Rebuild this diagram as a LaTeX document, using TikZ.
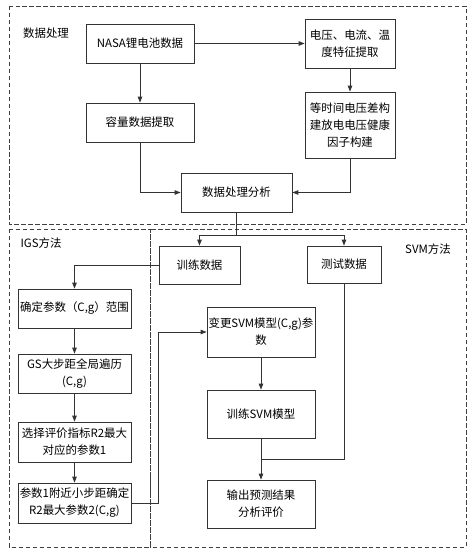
\documentclass[tikz,border=0pt]{standalone}
\usepackage{fontspec}
\setmainfont{Noto Sans CJK SC}
\usetikzlibrary{arrows.meta}
\newlength{\du}
\setlength{\du}{1bp}
\tikzset{
  box/.style={draw=black!80, line width=0.8pt, fill=white, align=center, inner sep=0pt,
    font=\fontsize{11.5}{17}\selectfont},
  zone/.style={draw=black!75, line width=0.9pt, dash pattern=on 4.5pt off 2.5pt},
  link/.style={draw=black!80, line width=0.8pt},
  arr/.style={link, -{Triangle[length=6pt,width=4.5pt]}},
  tag/.style={font=\fontsize{11.5}{14}\selectfont, inner sep=0pt}
}

\begin{document}
\begin{tikzpicture}
\pgftransformxscale{1.000000}
\pgftransformyscale{-1.000000}
\useasboundingbox (0\du,0\du) rectangle (474\du,558\du);
% dashed zones
\draw[zone] (9\du,6\du) rectangle (466\du,224\du);
\draw[zone] (9\du,229\du) rectangle (150\du,547\du);
\draw[zone] (150\du,229\du) rectangle (466\du,547\du);
\node[tag] (tdata) at (46\du,33\du) {数据处理};
\node[tag] (tigs) at (41\du,243\du) {IGS方法};
\node[tag] (tsvm) at (428\du,249\du) {SVM方法};
% data processing
\node[box, minimum width=108\du, minimum height=39\du] (nasa) at (140\du,43.5\du) {NASA锂电池数据};
\node[box, minimum width=90\du, minimum height=49\du] (feat) at (350\du,43.5\du) {电压、电流、温\\度特征提取};
\node[box, minimum width=108\du, minimum height=39\du] (cap) at (140\du,122.5\du) {容量数据提取};
\node[box, minimum width=90\du, minimum height=66\du] (hf) at (350\du,125\du) {等时间电压差构\\建放电电压健康\\因子构建};
\node[box, minimum width=111\du, minimum height=39\du] (proc) at (236.5\du,192.5\du) {数据处理分析};
% split data
\node[box, minimum width=81\du, minimum height=38\du] (train) at (199.5\du,265\du) {训练数据};
\node[box, minimum width=74\du, minimum height=37\du] (test) at (344\du,264.5\du) {测试数据};
% IGS
\node[box, minimum width=113\du, minimum height=39\du] (range) at (74.5\du,308.5\du) {确定参数（C,g）范围};
\node[box, minimum width=113\du, minimum height=39\du] (coarse) at (74.5\du,373.5\du) {GS大步距全局遍历\\(C,g)};
\node[box, minimum width=113\du, minimum height=40\du] (best) at (74.5\du,442\du) {选择评价指标R2最大\\对应的参数1};
\node[box, minimum width=113\du, minimum height=40\du] (fine) at (74.5\du,503\du) {参数1附近小步距确定\\R2最大参数2(C,g)};
% SVM
\node[box, minimum width=108\du, minimum height=50\du] (chg) at (261\du,332\du) {变更SVM模型(C,g)参\\数};
\node[box, minimum width=108\du, minimum height=48\du] (svm) at (261\du,414\du) {训练SVM模型};
\node[box, minimum width=108\du, minimum height=48\du] (out) at (261\du,504\du) {输出预测结果\\分析评价};
\coordinate (split) at (236.5\du,235\du);
\coordinate (jog) at (158\du,503\du);
\coordinate (merge) at (261\du,459\du);
% connectors
\draw[arr] (nasa) -- (feat);
\draw[arr] (nasa) -- (cap);
\draw[arr] (feat) -- (hf);
\draw[arr] (cap.south) |- (proc.west);
\draw[arr] (hf.south) |- (proc.east);
\draw[link] (proc.south) -- (split);
\draw[arr] (split) -| (train.north);
\draw[arr] (split) -| (test.north);
\draw[arr] (train.west) -| (range.north);
\draw[arr] (range) -- (coarse);
\draw[arr] (coarse) -- (best);
\draw[arr] (best) -- (fine);
\draw[arr] (fine.east) -- (jog) |- (chg.west);
\draw[arr] (chg) -- (svm);
\draw[arr] (svm) -- (out);
\draw[link] (test.south) |- (merge);
\end{tikzpicture}
\end{document}
